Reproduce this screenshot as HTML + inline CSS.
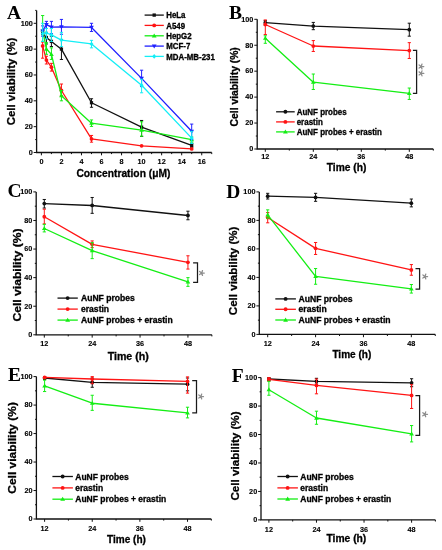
<!DOCTYPE html><html><head><meta charset="utf-8"><style>html,body{margin:0;padding:0;background:#fff;}svg{display:block;will-change:transform}</style></head><body>
<svg width="442" height="550" viewBox="0 0 442 550">
<rect width="442" height="550" fill="#fff"/>
<path d="M36.60 10.38V152.50H211.74" fill="none" stroke="#111" stroke-width="1.3"/>
<path d="M33.70 152.50H36.60M33.70 126.66H36.60M33.70 100.82H36.60M33.70 74.98H36.60M33.70 49.14H36.60M33.70 23.30H36.60M35.20 139.58H36.60M35.20 113.74H36.60M35.20 87.90H36.60M35.20 62.06H36.60M35.20 36.22H36.60M35.20 10.38H36.60M41.40 152.50V155.30M61.44 152.50V155.30M81.48 152.50V155.30M101.52 152.50V155.30M121.56 152.50V155.30M141.60 152.50V155.30M161.64 152.50V155.30M181.68 152.50V155.30M201.72 152.50V155.30M51.42 152.50V154.10M71.46 152.50V154.10M91.50 152.50V154.10M111.54 152.50V154.10M131.58 152.50V154.10M151.62 152.50V154.10M171.66 152.50V154.10M191.70 152.50V154.10M211.74 152.50V154.10" fill="none" stroke="#111" stroke-width="1"/>
<text x="32.80" y="154.80" font-family="Liberation Sans" font-weight="bold" font-size="8" text-anchor="end" fill="#000" textLength="4.05" lengthAdjust="spacingAndGlyphs" stroke="#000" stroke-width="0.12">0</text>
<text x="32.80" y="128.96" font-family="Liberation Sans" font-weight="bold" font-size="8" text-anchor="end" fill="#000" textLength="8.10" lengthAdjust="spacingAndGlyphs" stroke="#000" stroke-width="0.12">20</text>
<text x="32.80" y="103.12" font-family="Liberation Sans" font-weight="bold" font-size="8" text-anchor="end" fill="#000" textLength="8.10" lengthAdjust="spacingAndGlyphs" stroke="#000" stroke-width="0.12">40</text>
<text x="32.80" y="77.28" font-family="Liberation Sans" font-weight="bold" font-size="8" text-anchor="end" fill="#000" textLength="8.10" lengthAdjust="spacingAndGlyphs" stroke="#000" stroke-width="0.12">60</text>
<text x="32.80" y="51.44" font-family="Liberation Sans" font-weight="bold" font-size="8" text-anchor="end" fill="#000" textLength="8.10" lengthAdjust="spacingAndGlyphs" stroke="#000" stroke-width="0.12">80</text>
<text x="32.80" y="25.60" font-family="Liberation Sans" font-weight="bold" font-size="8" text-anchor="end" fill="#000" textLength="12.15" lengthAdjust="spacingAndGlyphs" stroke="#000" stroke-width="0.12">100</text>
<text x="41.40" y="164.10" font-family="Liberation Sans" font-weight="bold" font-size="8" text-anchor="middle" fill="#000" textLength="4.05" lengthAdjust="spacingAndGlyphs" stroke="#000" stroke-width="0.12">0</text>
<text x="61.44" y="164.10" font-family="Liberation Sans" font-weight="bold" font-size="8" text-anchor="middle" fill="#000" textLength="4.05" lengthAdjust="spacingAndGlyphs" stroke="#000" stroke-width="0.12">2</text>
<text x="81.48" y="164.10" font-family="Liberation Sans" font-weight="bold" font-size="8" text-anchor="middle" fill="#000" textLength="4.05" lengthAdjust="spacingAndGlyphs" stroke="#000" stroke-width="0.12">4</text>
<text x="101.52" y="164.10" font-family="Liberation Sans" font-weight="bold" font-size="8" text-anchor="middle" fill="#000" textLength="4.05" lengthAdjust="spacingAndGlyphs" stroke="#000" stroke-width="0.12">6</text>
<text x="121.56" y="164.10" font-family="Liberation Sans" font-weight="bold" font-size="8" text-anchor="middle" fill="#000" textLength="4.05" lengthAdjust="spacingAndGlyphs" stroke="#000" stroke-width="0.12">8</text>
<text x="141.60" y="164.10" font-family="Liberation Sans" font-weight="bold" font-size="8" text-anchor="middle" fill="#000" textLength="8.10" lengthAdjust="spacingAndGlyphs" stroke="#000" stroke-width="0.12">10</text>
<text x="161.64" y="164.10" font-family="Liberation Sans" font-weight="bold" font-size="8" text-anchor="middle" fill="#000" textLength="8.10" lengthAdjust="spacingAndGlyphs" stroke="#000" stroke-width="0.12">12</text>
<text x="181.68" y="164.10" font-family="Liberation Sans" font-weight="bold" font-size="8" text-anchor="middle" fill="#000" textLength="8.10" lengthAdjust="spacingAndGlyphs" stroke="#000" stroke-width="0.12">14</text>
<text x="201.72" y="164.10" font-family="Liberation Sans" font-weight="bold" font-size="8" text-anchor="middle" fill="#000" textLength="8.10" lengthAdjust="spacingAndGlyphs" stroke="#000" stroke-width="0.12">16</text>
<path d="M42.65 33.64L46.41 37.51L51.42 41.39L61.44 49.14L91.50 102.76L141.60 127.18L191.70 145.39" fill="none" stroke="#111" stroke-width="1.3" stroke-linejoin="round"/>
<path d="M46.41 32.34V43.97M44.81 32.34H48.01M44.81 43.97H48.01M51.42 36.22V46.56M49.82 36.22H53.02M49.82 46.56H53.02M61.44 39.45V59.48M59.84 39.45H63.04M59.84 59.48H63.04M91.50 98.75V107.28M89.90 98.75H93.10M89.90 107.28H93.10M141.60 120.46V136.35M140.00 120.46H143.20M140.00 136.35H143.20M191.70 143.46V147.33M190.10 143.46H193.30M190.10 147.33H193.30" fill="none" stroke="#111" stroke-width="1"/>
<rect x="41.03" y="32.02" width="3.24" height="3.24" fill="#111"/>
<rect x="44.79" y="35.89" width="3.24" height="3.24" fill="#111"/>
<rect x="49.80" y="39.77" width="3.24" height="3.24" fill="#111"/>
<rect x="59.82" y="47.52" width="3.24" height="3.24" fill="#111"/>
<rect x="89.88" y="101.14" width="3.24" height="3.24" fill="#111"/>
<rect x="139.98" y="125.56" width="3.24" height="3.24" fill="#111"/>
<rect x="190.08" y="143.77" width="3.24" height="3.24" fill="#111"/>
<path d="M42.65 45.91L46.41 60.12L51.42 67.23L61.44 90.48L91.50 138.93L141.60 145.78L191.70 148.88" fill="none" stroke="#ff1414" stroke-width="1.3" stroke-linejoin="round"/>
<path d="M42.65 42.03V58.18M41.05 42.03H44.25M41.05 58.18H44.25M46.41 56.25V64.00M44.81 56.25H48.01M44.81 64.00H48.01M51.42 63.35V71.10M49.82 63.35H53.02M49.82 71.10H53.02M61.44 84.02V95.65M59.84 84.02H63.04M59.84 95.65H63.04M91.50 135.45V142.16M89.90 135.45H93.10M89.90 142.16H93.10" fill="none" stroke="#ff1414" stroke-width="1"/>
<circle cx="42.65" cy="45.91" r="1.89" fill="#ff1414"/>
<circle cx="46.41" cy="60.12" r="1.89" fill="#ff1414"/>
<circle cx="51.42" cy="67.23" r="1.89" fill="#ff1414"/>
<circle cx="61.44" cy="90.48" r="1.89" fill="#ff1414"/>
<circle cx="91.50" cy="138.93" r="1.89" fill="#ff1414"/>
<circle cx="141.60" cy="145.78" r="1.89" fill="#ff1414"/>
<circle cx="191.70" cy="148.88" r="1.89" fill="#ff1414"/>
<path d="M42.65 29.76L46.41 49.14L51.42 54.31L61.44 95.65L91.50 123.17L141.60 130.02L191.70 139.58" fill="none" stroke="#14ee14" stroke-width="1.3" stroke-linejoin="round"/>
<path d="M42.65 15.55V41.39M41.05 15.55H44.25M41.05 41.39H44.25M46.41 42.68V54.31M44.81 42.68H48.01M44.81 54.31H48.01M51.42 47.85V59.48M49.82 47.85H53.02M49.82 59.48H53.02M61.44 90.48V100.82M59.84 90.48H63.04M59.84 100.82H63.04M91.50 119.94V126.40M89.90 119.94H93.10M89.90 126.40H93.10M141.60 121.75V136.22M140.00 121.75H143.20M140.00 136.22H143.20M191.70 137.00V142.16M190.10 137.00H193.30M190.10 142.16H193.30" fill="none" stroke="#14ee14" stroke-width="1"/>
<path d="M42.65 27.42L44.99 31.38L40.31 31.38Z" fill="#14ee14"/>
<path d="M46.41 46.80L48.75 50.76L44.07 50.76Z" fill="#14ee14"/>
<path d="M51.42 51.97L53.76 55.93L49.08 55.93Z" fill="#14ee14"/>
<path d="M61.44 93.31L63.78 97.27L59.10 97.27Z" fill="#14ee14"/>
<path d="M91.50 120.83L93.84 124.79L89.16 124.79Z" fill="#14ee14"/>
<path d="M141.60 127.68L143.94 131.64L139.26 131.64Z" fill="#14ee14"/>
<path d="M191.70 137.24L194.04 141.20L189.36 141.20Z" fill="#14ee14"/>
<path d="M42.65 31.05L46.41 24.59L51.42 27.18L61.44 26.79L91.50 27.43L141.60 78.34L191.70 131.31" fill="none" stroke="#2020ff" stroke-width="1.3" stroke-linejoin="round"/>
<path d="M42.65 25.88V36.22M41.05 25.88H44.25M41.05 36.22H44.25M46.41 21.36V28.47M44.81 21.36H48.01M44.81 28.47H48.01M51.42 21.36V33.64M49.82 21.36H53.02M49.82 33.64H53.02M61.44 19.42V34.28M59.84 19.42H63.04M59.84 34.28H63.04M91.50 23.30V31.44M89.90 23.30H93.10M89.90 31.44H93.10M141.60 70.20V86.61M140.00 70.20H143.20M140.00 86.61H143.20M191.70 124.08V139.58M190.10 124.08H193.30M190.10 139.58H193.30" fill="none" stroke="#2020ff" stroke-width="1"/>
<path d="M42.65 33.39L44.99 29.43L40.31 29.43Z" fill="#2020ff"/>
<path d="M46.41 26.93L48.75 22.97L44.07 22.97Z" fill="#2020ff"/>
<path d="M51.42 29.52L53.76 25.56L49.08 25.56Z" fill="#2020ff"/>
<path d="M61.44 29.13L63.78 25.17L59.10 25.17Z" fill="#2020ff"/>
<path d="M91.50 29.77L93.84 25.81L89.16 25.81Z" fill="#2020ff"/>
<path d="M141.60 80.68L143.94 76.72L139.26 76.72Z" fill="#2020ff"/>
<path d="M191.70 133.65L194.04 129.69L189.36 129.69Z" fill="#2020ff"/>
<path d="M42.65 33.64L46.41 32.99L51.42 34.93L61.44 40.10L91.50 43.97L141.60 85.32L191.70 138.16" fill="none" stroke="#14eef6" stroke-width="1.3" stroke-linejoin="round"/>
<path d="M42.65 23.30V41.39M41.05 23.30H44.25M41.05 41.39H44.25M46.41 28.47V38.80M44.81 28.47H48.01M44.81 38.80H48.01M51.42 28.47V41.39M49.82 28.47H53.02M49.82 41.39H53.02M61.44 32.34V46.56M59.84 32.34H63.04M59.84 46.56H63.04M91.50 40.35V47.85M89.90 40.35H93.10M89.90 47.85H93.10M141.60 79.24V92.81M140.00 79.24H143.20M140.00 92.81H143.20M191.70 131.31V143.46M190.10 131.31H193.30M190.10 143.46H193.30" fill="none" stroke="#14eef6" stroke-width="1"/>
<path d="M42.65 31.30L44.63 33.64L42.65 35.98L40.67 33.64Z" fill="#14eef6"/>
<path d="M46.41 30.65L48.39 32.99L46.41 35.33L44.43 32.99Z" fill="#14eef6"/>
<path d="M51.42 32.59L53.40 34.93L51.42 37.27L49.44 34.93Z" fill="#14eef6"/>
<path d="M61.44 37.76L63.42 40.10L61.44 42.44L59.46 40.10Z" fill="#14eef6"/>
<path d="M91.50 41.63L93.48 43.97L91.50 46.31L89.52 43.97Z" fill="#14eef6"/>
<path d="M141.60 82.98L143.58 85.32L141.60 87.66L139.62 85.32Z" fill="#14eef6"/>
<path d="M191.70 135.82L193.68 138.16L191.70 140.50L189.72 138.16Z" fill="#14eef6"/>
<path d="M144.60 15.10H163.80" stroke="#111" stroke-width="1.3"/>
<rect x="152.53" y="13.43" width="3.33" height="3.33" fill="#111"/>
<text x="166.20" y="18.20" font-family="Liberation Sans" font-weight="bold" font-size="8.2" text-anchor="start" fill="#000" textLength="19.27" lengthAdjust="spacingAndGlyphs" stroke="#000" stroke-width="0.3">HeLa</text>
<path d="M144.60 25.40H163.80" stroke="#ff1414" stroke-width="1.3"/>
<circle cx="154.20" cy="25.40" r="1.94" fill="#ff1414"/>
<text x="166.20" y="28.50" font-family="Liberation Sans" font-weight="bold" font-size="8.2" text-anchor="start" fill="#000" textLength="18.84" lengthAdjust="spacingAndGlyphs" stroke="#000" stroke-width="0.3">A549</text>
<path d="M144.60 35.80H163.80" stroke="#14ee14" stroke-width="1.3"/>
<path d="M154.20 33.39L156.60 37.46L151.79 37.46Z" fill="#14ee14"/>
<text x="166.20" y="38.90" font-family="Liberation Sans" font-weight="bold" font-size="8.2" text-anchor="start" fill="#000" textLength="25.40" lengthAdjust="spacingAndGlyphs" stroke="#000" stroke-width="0.3">HepG2</text>
<path d="M144.60 46.10H163.80" stroke="#2020ff" stroke-width="1.3"/>
<path d="M154.20 48.51L156.60 44.44L151.79 44.44Z" fill="#2020ff"/>
<text x="166.20" y="49.20" font-family="Liberation Sans" font-weight="bold" font-size="8.2" text-anchor="start" fill="#000" textLength="24.08" lengthAdjust="spacingAndGlyphs" stroke="#000" stroke-width="0.3">MCF-7</text>
<path d="M144.60 56.40H163.80" stroke="#14eef6" stroke-width="1.3"/>
<path d="M154.20 53.99L156.23 56.40L154.20 58.80L152.16 56.40Z" fill="#14eef6"/>
<text x="166.20" y="59.50" font-family="Liberation Sans" font-weight="bold" font-size="8.2" text-anchor="start" fill="#000" textLength="48.60" lengthAdjust="spacingAndGlyphs" stroke="#000" stroke-width="0.3">MDA-MB-231</text>
<text x="7.00" y="18.70" font-family="Liberation Serif" font-weight="bold" font-size="19.5">A</text>
<text transform="translate(14.90 81.50) rotate(-90)" font-family="Liberation Sans" font-weight="bold" font-size="11.5" text-anchor="middle" stroke="#000" stroke-width="0.3" textLength="87.50" lengthAdjust="spacingAndGlyphs">Cell viability (%)</text>
<text x="76.40" y="177.00" font-family="Liberation Sans" font-weight="bold" font-size="11.3" text-anchor="start" fill="#000" textLength="94.00" lengthAdjust="spacingAndGlyphs" stroke="#000" stroke-width="0.3">Concentration (μM)</text>
<path d="M257.20 19.30V149.00H433.30" fill="none" stroke="#111" stroke-width="1.3"/>
<path d="M254.30 149.00H257.20M254.30 123.06H257.20M254.30 97.12H257.20M254.30 71.18H257.20M254.30 45.24H257.20M254.30 19.30H257.20M255.80 136.03H257.20M255.80 110.09H257.20M255.80 84.15H257.20M255.80 58.21H257.20M255.80 32.27H257.20M265.30 149.00V151.80M313.30 149.00V151.80M361.30 149.00V151.80M409.30 149.00V151.80M289.30 149.00V150.60M337.30 149.00V150.60M385.30 149.00V150.60M433.30 149.00V150.60" fill="none" stroke="#111" stroke-width="1"/>
<text x="253.40" y="151.30" font-family="Liberation Sans" font-weight="bold" font-size="8" text-anchor="end" fill="#000" textLength="4.05" lengthAdjust="spacingAndGlyphs" stroke="#000" stroke-width="0.12">0</text>
<text x="253.40" y="125.36" font-family="Liberation Sans" font-weight="bold" font-size="8" text-anchor="end" fill="#000" textLength="8.10" lengthAdjust="spacingAndGlyphs" stroke="#000" stroke-width="0.12">20</text>
<text x="253.40" y="99.42" font-family="Liberation Sans" font-weight="bold" font-size="8" text-anchor="end" fill="#000" textLength="8.10" lengthAdjust="spacingAndGlyphs" stroke="#000" stroke-width="0.12">40</text>
<text x="253.40" y="73.48" font-family="Liberation Sans" font-weight="bold" font-size="8" text-anchor="end" fill="#000" textLength="8.10" lengthAdjust="spacingAndGlyphs" stroke="#000" stroke-width="0.12">60</text>
<text x="253.40" y="47.54" font-family="Liberation Sans" font-weight="bold" font-size="8" text-anchor="end" fill="#000" textLength="8.10" lengthAdjust="spacingAndGlyphs" stroke="#000" stroke-width="0.12">80</text>
<text x="253.40" y="21.60" font-family="Liberation Sans" font-weight="bold" font-size="8" text-anchor="end" fill="#000" textLength="12.15" lengthAdjust="spacingAndGlyphs" stroke="#000" stroke-width="0.12">100</text>
<text x="265.30" y="159.10" font-family="Liberation Sans" font-weight="bold" font-size="8" text-anchor="middle" fill="#000" textLength="8.10" lengthAdjust="spacingAndGlyphs" stroke="#000" stroke-width="0.12">12</text>
<text x="313.30" y="159.10" font-family="Liberation Sans" font-weight="bold" font-size="8" text-anchor="middle" fill="#000" textLength="8.10" lengthAdjust="spacingAndGlyphs" stroke="#000" stroke-width="0.12">24</text>
<text x="361.30" y="159.10" font-family="Liberation Sans" font-weight="bold" font-size="8" text-anchor="middle" fill="#000" textLength="8.10" lengthAdjust="spacingAndGlyphs" stroke="#000" stroke-width="0.12">36</text>
<text x="409.30" y="159.10" font-family="Liberation Sans" font-weight="bold" font-size="8" text-anchor="middle" fill="#000" textLength="8.10" lengthAdjust="spacingAndGlyphs" stroke="#000" stroke-width="0.12">48</text>
<path d="M265.30 22.67L313.30 26.04L409.30 29.68" fill="none" stroke="#111" stroke-width="1.3" stroke-linejoin="round"/>
<path d="M265.30 20.60V25.14M263.70 20.60H266.90M263.70 25.14H266.90M313.30 22.41V29.68M311.70 22.41H314.90M311.70 29.68H314.90M409.30 23.19V36.16M407.70 23.19H410.90M407.70 36.16H410.90" fill="none" stroke="#111" stroke-width="1"/>
<circle cx="265.30" cy="22.67" r="1.89" fill="#111"/>
<circle cx="313.30" cy="26.04" r="1.89" fill="#111"/>
<circle cx="409.30" cy="29.68" r="1.89" fill="#111"/>
<path d="M265.30 24.49L313.30 46.02L409.30 50.56" fill="none" stroke="#ff1414" stroke-width="1.3" stroke-linejoin="round"/>
<path d="M265.30 19.95V34.47M263.70 19.95H266.90M263.70 34.47H266.90M313.30 40.57V51.47M311.70 40.57H314.90M311.70 51.47H314.90M409.30 42.65V58.47M407.70 42.65H410.90M407.70 58.47H410.90" fill="none" stroke="#ff1414" stroke-width="1"/>
<circle cx="265.30" cy="24.49" r="1.89" fill="#ff1414"/>
<circle cx="313.30" cy="46.02" r="1.89" fill="#ff1414"/>
<circle cx="409.30" cy="50.56" r="1.89" fill="#ff1414"/>
<path d="M265.30 38.24L313.30 82.20L409.30 93.36" fill="none" stroke="#14ee14" stroke-width="1.3" stroke-linejoin="round"/>
<path d="M265.30 35.77V43.29M263.70 35.77H266.90M263.70 43.29H266.90M313.30 74.03V89.47M311.70 74.03H314.90M311.70 89.47H314.90M409.30 88.04V99.45M407.70 88.04H410.90M407.70 99.45H410.90" fill="none" stroke="#14ee14" stroke-width="1"/>
<path d="M265.30 35.90L267.64 39.86L262.96 39.86Z" fill="#14ee14"/>
<path d="M313.30 79.86L315.64 83.82L310.96 83.82Z" fill="#14ee14"/>
<path d="M409.30 91.02L411.64 94.98L406.96 94.98Z" fill="#14ee14"/>
<path d="M276.10 111.80H294.70" stroke="#111" stroke-width="1.3"/>
<circle cx="285.40" cy="111.80" r="1.94" fill="#111"/>
<text x="296.70" y="114.90" font-family="Liberation Sans" font-weight="bold" font-size="8.2" text-anchor="start" fill="#000" textLength="50.00" lengthAdjust="spacingAndGlyphs" stroke="#000" stroke-width="0.3">AuNF probes</text>
<path d="M276.10 121.90H294.70" stroke="#ff1414" stroke-width="1.3"/>
<circle cx="285.40" cy="121.90" r="1.94" fill="#ff1414"/>
<text x="296.70" y="125.00" font-family="Liberation Sans" font-weight="bold" font-size="8.2" text-anchor="start" fill="#000" textLength="26.12" lengthAdjust="spacingAndGlyphs" stroke="#000" stroke-width="0.3">erastin</text>
<path d="M276.10 131.90H294.70" stroke="#14ee14" stroke-width="1.3"/>
<path d="M285.40 129.50L287.80 133.56L283.00 133.56Z" fill="#14ee14"/>
<text x="296.70" y="135.00" font-family="Liberation Sans" font-weight="bold" font-size="8.2" text-anchor="start" fill="#000" textLength="85.20" lengthAdjust="spacingAndGlyphs" stroke="#000" stroke-width="0.3">AuNF probes + erastin</text>
<path d="M412.90 50.40H416.60V93.40H412.90" fill="none" stroke="#1a1a1a" stroke-width="1.25"/>
<path d="M421.20 66.50L423.80 66.50M421.20 66.50L422.00 68.97M421.20 66.50L419.10 68.03M421.20 66.50L419.10 64.97M421.20 66.50L422.00 64.03" stroke="#8c8c8c" stroke-width="1.25" stroke-linecap="round" fill="none"/>
<path d="M421.20 73.40L423.80 73.40M421.20 73.40L422.00 75.87M421.20 73.40L419.10 74.93M421.20 73.40L419.10 71.87M421.20 73.40L422.00 70.93" stroke="#8c8c8c" stroke-width="1.25" stroke-linecap="round" fill="none"/>
<text x="326.80" y="170.80" font-family="Liberation Sans" font-weight="bold" font-size="10.2" text-anchor="start" fill="#000" textLength="39.60" lengthAdjust="spacingAndGlyphs" stroke="#000" stroke-width="0.3">Time (h)</text>
<text transform="translate(238.30 86.80) rotate(-90)" font-family="Liberation Sans" font-weight="bold" font-size="10.3" text-anchor="middle" stroke="#000" stroke-width="0.3" textLength="79.20" lengthAdjust="spacingAndGlyphs">Cell viability (%)</text>
<text x="229.00" y="18.70" font-family="Liberation Serif" font-weight="bold" font-size="19.5">B</text>
<path d="M36.20 191.90V334.80H211.88" fill="none" stroke="#111" stroke-width="1.3"/>
<path d="M33.30 334.80H36.20M33.30 306.22H36.20M33.30 277.64H36.20M33.30 249.06H36.20M33.30 220.48H36.20M33.30 191.90H36.20M34.80 320.51H36.20M34.80 291.93H36.20M34.80 263.35H36.20M34.80 234.77H36.20M34.80 206.19H36.20M44.30 334.80V337.60M92.18 334.80V337.60M140.06 334.80V337.60M187.94 334.80V337.60M68.24 334.80V336.40M116.12 334.80V336.40M164.00 334.80V336.40M211.88 334.80V336.40" fill="none" stroke="#111" stroke-width="1"/>
<text x="32.40" y="337.10" font-family="Liberation Sans" font-weight="bold" font-size="8" text-anchor="end" fill="#000" textLength="4.05" lengthAdjust="spacingAndGlyphs" stroke="#000" stroke-width="0.12">0</text>
<text x="32.40" y="308.52" font-family="Liberation Sans" font-weight="bold" font-size="8" text-anchor="end" fill="#000" textLength="8.10" lengthAdjust="spacingAndGlyphs" stroke="#000" stroke-width="0.12">20</text>
<text x="32.40" y="279.94" font-family="Liberation Sans" font-weight="bold" font-size="8" text-anchor="end" fill="#000" textLength="8.10" lengthAdjust="spacingAndGlyphs" stroke="#000" stroke-width="0.12">40</text>
<text x="32.40" y="251.36" font-family="Liberation Sans" font-weight="bold" font-size="8" text-anchor="end" fill="#000" textLength="8.10" lengthAdjust="spacingAndGlyphs" stroke="#000" stroke-width="0.12">60</text>
<text x="32.40" y="222.78" font-family="Liberation Sans" font-weight="bold" font-size="8" text-anchor="end" fill="#000" textLength="8.10" lengthAdjust="spacingAndGlyphs" stroke="#000" stroke-width="0.12">80</text>
<text x="32.40" y="194.20" font-family="Liberation Sans" font-weight="bold" font-size="8" text-anchor="end" fill="#000" textLength="12.15" lengthAdjust="spacingAndGlyphs" stroke="#000" stroke-width="0.12">100</text>
<text x="44.30" y="346.40" font-family="Liberation Sans" font-weight="bold" font-size="8" text-anchor="middle" fill="#000" textLength="8.10" lengthAdjust="spacingAndGlyphs" stroke="#000" stroke-width="0.12">12</text>
<text x="92.18" y="346.40" font-family="Liberation Sans" font-weight="bold" font-size="8" text-anchor="middle" fill="#000" textLength="8.10" lengthAdjust="spacingAndGlyphs" stroke="#000" stroke-width="0.12">24</text>
<text x="140.06" y="346.40" font-family="Liberation Sans" font-weight="bold" font-size="8" text-anchor="middle" fill="#000" textLength="8.10" lengthAdjust="spacingAndGlyphs" stroke="#000" stroke-width="0.12">36</text>
<text x="187.94" y="346.40" font-family="Liberation Sans" font-weight="bold" font-size="8" text-anchor="middle" fill="#000" textLength="8.10" lengthAdjust="spacingAndGlyphs" stroke="#000" stroke-width="0.12">48</text>
<path d="M44.30 203.62L92.18 205.48L187.94 215.48" fill="none" stroke="#111" stroke-width="1.3" stroke-linejoin="round"/>
<path d="M44.30 199.47V208.05M42.70 199.47H45.90M42.70 208.05H45.90M92.18 197.47V213.34M90.58 197.47H93.78M90.58 213.34H93.78M187.94 211.19V219.77M186.34 211.19H189.54M186.34 219.77H189.54" fill="none" stroke="#111" stroke-width="1"/>
<circle cx="44.30" cy="203.62" r="1.89" fill="#111"/>
<circle cx="92.18" cy="205.48" r="1.89" fill="#111"/>
<circle cx="187.94" cy="215.48" r="1.89" fill="#111"/>
<path d="M44.30 216.76L92.18 244.34L187.94 262.35" fill="none" stroke="#ff1414" stroke-width="1.3" stroke-linejoin="round"/>
<path d="M44.30 209.19V223.91M42.70 209.19H45.90M42.70 223.91H45.90M92.18 240.91V247.63M90.58 240.91H93.78M90.58 247.63H93.78M187.94 255.78V269.07M186.34 255.78H189.54M186.34 269.07H189.54" fill="none" stroke="#ff1414" stroke-width="1"/>
<circle cx="44.30" cy="216.76" r="1.89" fill="#ff1414"/>
<circle cx="92.18" cy="244.34" r="1.89" fill="#ff1414"/>
<circle cx="187.94" cy="262.35" r="1.89" fill="#ff1414"/>
<path d="M44.30 228.48L92.18 250.63L187.94 281.93" fill="none" stroke="#14ee14" stroke-width="1.3" stroke-linejoin="round"/>
<path d="M44.30 224.34V231.91M42.70 224.34H45.90M42.70 231.91H45.90M92.18 242.63V258.63M90.58 242.63H93.78M90.58 258.63H93.78M187.94 277.64V286.36M186.34 277.64H189.54M186.34 286.36H189.54" fill="none" stroke="#14ee14" stroke-width="1"/>
<path d="M44.30 226.14L46.64 230.10L41.96 230.10Z" fill="#14ee14"/>
<path d="M92.18 248.29L94.52 252.25L89.84 252.25Z" fill="#14ee14"/>
<path d="M187.94 279.59L190.28 283.55L185.60 283.55Z" fill="#14ee14"/>
<path d="M57.50 298.10H77.80" stroke="#111" stroke-width="1.3"/>
<circle cx="67.65" cy="298.10" r="1.94" fill="#111"/>
<text x="81.00" y="301.20" font-family="Liberation Sans" font-weight="bold" font-size="8.2" text-anchor="start" fill="#000" textLength="53.82" lengthAdjust="spacingAndGlyphs" stroke="#000" stroke-width="0.3">AuNF probes</text>
<path d="M57.50 309.10H77.80" stroke="#ff1414" stroke-width="1.3"/>
<circle cx="67.65" cy="309.10" r="1.94" fill="#ff1414"/>
<text x="81.00" y="312.20" font-family="Liberation Sans" font-weight="bold" font-size="8.2" text-anchor="start" fill="#000" textLength="28.11" lengthAdjust="spacingAndGlyphs" stroke="#000" stroke-width="0.3">erastin</text>
<path d="M57.50 320.10H77.80" stroke="#14ee14" stroke-width="1.3"/>
<path d="M67.65 317.70L70.06 321.77L65.25 321.77Z" fill="#14ee14"/>
<text x="81.00" y="323.20" font-family="Liberation Sans" font-weight="bold" font-size="8.2" text-anchor="start" fill="#000" textLength="91.70" lengthAdjust="spacingAndGlyphs" stroke="#000" stroke-width="0.3">AuNF probes + erastin</text>
<path d="M193.10 262.80H197.50V282.30H193.10" fill="none" stroke="#1a1a1a" stroke-width="1.25"/>
<path d="M201.70 273.00L204.30 273.00M201.70 273.00L202.50 275.47M201.70 273.00L199.60 274.53M201.70 273.00L199.60 271.47M201.70 273.00L202.50 270.53" stroke="#8c8c8c" stroke-width="1.25" stroke-linecap="round" fill="none"/>
<text x="107.70" y="359.90" font-family="Liberation Sans" font-weight="bold" font-size="10.2" text-anchor="start" fill="#000" textLength="41.10" lengthAdjust="spacingAndGlyphs" stroke="#000" stroke-width="0.3">Time (h)</text>
<text transform="translate(21.00 275.00) rotate(-90)" font-family="Liberation Sans" font-weight="bold" font-size="11.7" text-anchor="middle" stroke="#000" stroke-width="0.3" textLength="93.00" lengthAdjust="spacingAndGlyphs">Cell viability (%)</text>
<text x="7.40" y="197.00" font-family="Liberation Serif" font-weight="bold" font-size="19.5">C</text>
<path d="M259.30 191.90V334.40H435.28" fill="none" stroke="#111" stroke-width="1.3"/>
<path d="M256.40 334.40H259.30M256.40 305.90H259.30M256.40 277.40H259.30M256.40 248.90H259.30M256.40 220.40H259.30M256.40 191.90H259.30M257.90 320.15H259.30M257.90 291.65H259.30M257.90 263.15H259.30M257.90 234.65H259.30M257.90 206.15H259.30M267.70 334.40V337.20M315.58 334.40V337.20M363.46 334.40V337.20M411.34 334.40V337.20M291.64 334.40V336.00M339.52 334.40V336.00M387.40 334.40V336.00M435.28 334.40V336.00" fill="none" stroke="#111" stroke-width="1"/>
<text x="255.50" y="336.70" font-family="Liberation Sans" font-weight="bold" font-size="8" text-anchor="end" fill="#000" textLength="4.05" lengthAdjust="spacingAndGlyphs" stroke="#000" stroke-width="0.12">0</text>
<text x="255.50" y="308.20" font-family="Liberation Sans" font-weight="bold" font-size="8" text-anchor="end" fill="#000" textLength="8.10" lengthAdjust="spacingAndGlyphs" stroke="#000" stroke-width="0.12">20</text>
<text x="255.50" y="279.70" font-family="Liberation Sans" font-weight="bold" font-size="8" text-anchor="end" fill="#000" textLength="8.10" lengthAdjust="spacingAndGlyphs" stroke="#000" stroke-width="0.12">40</text>
<text x="255.50" y="251.20" font-family="Liberation Sans" font-weight="bold" font-size="8" text-anchor="end" fill="#000" textLength="8.10" lengthAdjust="spacingAndGlyphs" stroke="#000" stroke-width="0.12">60</text>
<text x="255.50" y="222.70" font-family="Liberation Sans" font-weight="bold" font-size="8" text-anchor="end" fill="#000" textLength="8.10" lengthAdjust="spacingAndGlyphs" stroke="#000" stroke-width="0.12">80</text>
<text x="255.50" y="194.20" font-family="Liberation Sans" font-weight="bold" font-size="8" text-anchor="end" fill="#000" textLength="12.15" lengthAdjust="spacingAndGlyphs" stroke="#000" stroke-width="0.12">100</text>
<text x="267.70" y="346.00" font-family="Liberation Sans" font-weight="bold" font-size="8" text-anchor="middle" fill="#000" textLength="8.10" lengthAdjust="spacingAndGlyphs" stroke="#000" stroke-width="0.12">12</text>
<text x="315.58" y="346.00" font-family="Liberation Sans" font-weight="bold" font-size="8" text-anchor="middle" fill="#000" textLength="8.10" lengthAdjust="spacingAndGlyphs" stroke="#000" stroke-width="0.12">24</text>
<text x="363.46" y="346.00" font-family="Liberation Sans" font-weight="bold" font-size="8" text-anchor="middle" fill="#000" textLength="8.10" lengthAdjust="spacingAndGlyphs" stroke="#000" stroke-width="0.12">36</text>
<text x="411.34" y="346.00" font-family="Liberation Sans" font-weight="bold" font-size="8" text-anchor="middle" fill="#000" textLength="8.10" lengthAdjust="spacingAndGlyphs" stroke="#000" stroke-width="0.12">48</text>
<path d="M267.70 196.17L315.58 197.46L411.34 203.16" fill="none" stroke="#111" stroke-width="1.3" stroke-linejoin="round"/>
<path d="M267.70 193.32V199.02M266.10 193.32H269.30M266.10 199.02H269.30M315.58 193.32V201.30M313.98 193.32H317.18M313.98 201.30H317.18M411.34 199.02V206.86M409.74 199.02H412.94M409.74 206.86H412.94" fill="none" stroke="#111" stroke-width="1"/>
<circle cx="267.70" cy="196.17" r="1.89" fill="#111"/>
<circle cx="315.58" cy="197.46" r="1.89" fill="#111"/>
<circle cx="411.34" cy="203.16" r="1.89" fill="#111"/>
<path d="M267.70 217.55L315.58 248.33L411.34 269.99" fill="none" stroke="#ff1414" stroke-width="1.3" stroke-linejoin="round"/>
<path d="M267.70 212.56V222.82M266.10 212.56H269.30M266.10 222.82H269.30M315.58 242.49V254.46M313.98 242.49H317.18M313.98 254.46H317.18M411.34 264.57V275.26M409.74 264.57H412.94M409.74 275.26H412.94" fill="none" stroke="#ff1414" stroke-width="1"/>
<circle cx="267.70" cy="217.55" r="1.89" fill="#ff1414"/>
<circle cx="315.58" cy="248.33" r="1.89" fill="#ff1414"/>
<circle cx="411.34" cy="269.99" r="1.89" fill="#ff1414"/>
<path d="M267.70 214.84L315.58 276.40L411.34 288.94" fill="none" stroke="#14ee14" stroke-width="1.3" stroke-linejoin="round"/>
<path d="M267.70 209.85V218.26M266.10 209.85H269.30M266.10 218.26H269.30M315.58 268.56V284.24M313.98 268.56H317.18M313.98 284.24H317.18M411.34 284.52V293.07M409.74 284.52H412.94M409.74 293.07H412.94" fill="none" stroke="#14ee14" stroke-width="1"/>
<path d="M267.70 212.50L270.04 216.46L265.36 216.46Z" fill="#14ee14"/>
<path d="M315.58 274.06L317.92 278.02L313.24 278.02Z" fill="#14ee14"/>
<path d="M411.34 286.60L413.68 290.56L409.00 290.56Z" fill="#14ee14"/>
<path d="M275.30 298.90H295.90" stroke="#111" stroke-width="1.3"/>
<circle cx="285.60" cy="298.90" r="1.94" fill="#111"/>
<text x="298.50" y="302.00" font-family="Liberation Sans" font-weight="bold" font-size="8.2" text-anchor="start" fill="#000" textLength="54.05" lengthAdjust="spacingAndGlyphs" stroke="#000" stroke-width="0.3">AuNF probes</text>
<path d="M275.30 309.30H295.90" stroke="#ff1414" stroke-width="1.3"/>
<circle cx="285.60" cy="309.30" r="1.94" fill="#ff1414"/>
<text x="298.50" y="312.40" font-family="Liberation Sans" font-weight="bold" font-size="8.2" text-anchor="start" fill="#000" textLength="28.23" lengthAdjust="spacingAndGlyphs" stroke="#000" stroke-width="0.3">erastin</text>
<path d="M275.30 320.00H295.90" stroke="#14ee14" stroke-width="1.3"/>
<path d="M285.60 317.60L288.00 321.67L283.20 321.67Z" fill="#14ee14"/>
<text x="298.50" y="323.10" font-family="Liberation Sans" font-weight="bold" font-size="8.2" text-anchor="start" fill="#000" textLength="92.10" lengthAdjust="spacingAndGlyphs" stroke="#000" stroke-width="0.3">AuNF probes + erastin</text>
<path d="M415.50 268.60H419.60V289.00H415.50" fill="none" stroke="#1a1a1a" stroke-width="1.25"/>
<path d="M425.00 276.50L427.60 276.50M425.00 276.50L425.80 278.97M425.00 276.50L422.90 278.03M425.00 276.50L422.90 274.97M425.00 276.50L425.80 274.03" stroke="#8c8c8c" stroke-width="1.25" stroke-linecap="round" fill="none"/>
<text x="332.40" y="358.40" font-family="Liberation Sans" font-weight="bold" font-size="10.2" text-anchor="start" fill="#000" textLength="38.90" lengthAdjust="spacingAndGlyphs" stroke="#000" stroke-width="0.3">Time (h)</text>
<text transform="translate(236.80 270.90) rotate(-90)" font-family="Liberation Sans" font-weight="bold" font-size="11.5" text-anchor="middle" stroke="#000" stroke-width="0.3" textLength="88.60" lengthAdjust="spacingAndGlyphs">Cell viability (%)</text>
<text x="226.30" y="197.60" font-family="Liberation Serif" font-weight="bold" font-size="19.5">D</text>
<path d="M36.40 376.60V519.00H211.34" fill="none" stroke="#111" stroke-width="1.3"/>
<path d="M33.50 519.00H36.40M33.50 490.52H36.40M33.50 462.04H36.40M33.50 433.56H36.40M33.50 405.08H36.40M33.50 376.60H36.40M35.00 504.76H36.40M35.00 476.28H36.40M35.00 447.80H36.40M35.00 419.32H36.40M35.00 390.84H36.40M44.60 519.00V521.80M92.24 519.00V521.80M139.88 519.00V521.80M187.52 519.00V521.80M68.42 519.00V520.60M116.06 519.00V520.60M163.70 519.00V520.60M211.34 519.00V520.60" fill="none" stroke="#111" stroke-width="1"/>
<text x="32.60" y="521.30" font-family="Liberation Sans" font-weight="bold" font-size="8" text-anchor="end" fill="#000" textLength="4.05" lengthAdjust="spacingAndGlyphs" stroke="#000" stroke-width="0.12">0</text>
<text x="32.60" y="492.82" font-family="Liberation Sans" font-weight="bold" font-size="8" text-anchor="end" fill="#000" textLength="8.10" lengthAdjust="spacingAndGlyphs" stroke="#000" stroke-width="0.12">20</text>
<text x="32.60" y="464.34" font-family="Liberation Sans" font-weight="bold" font-size="8" text-anchor="end" fill="#000" textLength="8.10" lengthAdjust="spacingAndGlyphs" stroke="#000" stroke-width="0.12">40</text>
<text x="32.60" y="435.86" font-family="Liberation Sans" font-weight="bold" font-size="8" text-anchor="end" fill="#000" textLength="8.10" lengthAdjust="spacingAndGlyphs" stroke="#000" stroke-width="0.12">60</text>
<text x="32.60" y="407.38" font-family="Liberation Sans" font-weight="bold" font-size="8" text-anchor="end" fill="#000" textLength="8.10" lengthAdjust="spacingAndGlyphs" stroke="#000" stroke-width="0.12">80</text>
<text x="32.60" y="378.90" font-family="Liberation Sans" font-weight="bold" font-size="8" text-anchor="end" fill="#000" textLength="12.15" lengthAdjust="spacingAndGlyphs" stroke="#000" stroke-width="0.12">100</text>
<text x="44.60" y="530.60" font-family="Liberation Sans" font-weight="bold" font-size="8" text-anchor="middle" fill="#000" textLength="8.10" lengthAdjust="spacingAndGlyphs" stroke="#000" stroke-width="0.12">12</text>
<text x="92.24" y="530.60" font-family="Liberation Sans" font-weight="bold" font-size="8" text-anchor="middle" fill="#000" textLength="8.10" lengthAdjust="spacingAndGlyphs" stroke="#000" stroke-width="0.12">24</text>
<text x="139.88" y="530.60" font-family="Liberation Sans" font-weight="bold" font-size="8" text-anchor="middle" fill="#000" textLength="8.10" lengthAdjust="spacingAndGlyphs" stroke="#000" stroke-width="0.12">36</text>
<text x="187.52" y="530.60" font-family="Liberation Sans" font-weight="bold" font-size="8" text-anchor="middle" fill="#000" textLength="8.10" lengthAdjust="spacingAndGlyphs" stroke="#000" stroke-width="0.12">48</text>
<path d="M44.60 378.02L92.24 382.44L187.52 384.15" fill="none" stroke="#111" stroke-width="1.3" stroke-linejoin="round"/>
<path d="M44.60 376.60V379.45M43.00 376.60H46.20M43.00 379.45H46.20M92.24 378.02V387.28M90.64 378.02H93.84M90.64 387.28H93.84M187.52 378.02V390.84M185.92 378.02H189.12M185.92 390.84H189.12" fill="none" stroke="#111" stroke-width="1"/>
<circle cx="44.60" cy="378.02" r="1.89" fill="#111"/>
<circle cx="92.24" cy="382.44" r="1.89" fill="#111"/>
<circle cx="187.52" cy="384.15" r="1.89" fill="#111"/>
<path d="M44.60 377.45L92.24 379.02L187.52 381.44" fill="none" stroke="#ff1414" stroke-width="1.3" stroke-linejoin="round"/>
<path d="M44.60 376.60V378.74M43.00 376.60H46.20M43.00 378.74H46.20M92.24 376.60V383.72M90.64 376.60H93.84M90.64 383.72H93.84M187.52 376.88V393.12M185.92 376.88H189.12M185.92 393.12H189.12" fill="none" stroke="#ff1414" stroke-width="1"/>
<circle cx="44.60" cy="377.45" r="1.89" fill="#ff1414"/>
<circle cx="92.24" cy="379.02" r="1.89" fill="#ff1414"/>
<circle cx="187.52" cy="381.44" r="1.89" fill="#ff1414"/>
<path d="M44.60 385.86L92.24 403.23L187.52 412.91" fill="none" stroke="#14ee14" stroke-width="1.3" stroke-linejoin="round"/>
<path d="M44.60 380.16V391.55M43.00 380.16H46.20M43.00 391.55H46.20M92.24 395.25V410.35M90.64 395.25H93.84M90.64 410.35H93.84M187.52 407.22V417.90M185.92 407.22H189.12M185.92 417.90H189.12" fill="none" stroke="#14ee14" stroke-width="1"/>
<path d="M44.60 383.52L46.94 387.48L42.26 387.48Z" fill="#14ee14"/>
<path d="M92.24 400.89L94.58 404.85L89.90 404.85Z" fill="#14ee14"/>
<path d="M187.52 410.57L189.86 414.53L185.18 414.53Z" fill="#14ee14"/>
<path d="M52.40 476.50H72.90" stroke="#111" stroke-width="1.3"/>
<circle cx="62.65" cy="476.50" r="1.94" fill="#111"/>
<text x="75.30" y="479.60" font-family="Liberation Sans" font-weight="bold" font-size="8.2" text-anchor="start" fill="#000" textLength="53.35" lengthAdjust="spacingAndGlyphs" stroke="#000" stroke-width="0.3">AuNF probes</text>
<path d="M52.40 487.90H72.90" stroke="#ff1414" stroke-width="1.3"/>
<circle cx="62.65" cy="487.90" r="1.94" fill="#ff1414"/>
<text x="75.30" y="491.00" font-family="Liberation Sans" font-weight="bold" font-size="8.2" text-anchor="start" fill="#000" textLength="27.86" lengthAdjust="spacingAndGlyphs" stroke="#000" stroke-width="0.3">erastin</text>
<path d="M52.40 499.20H72.90" stroke="#14ee14" stroke-width="1.3"/>
<path d="M62.65 496.80L65.06 500.87L60.25 500.87Z" fill="#14ee14"/>
<text x="75.30" y="502.30" font-family="Liberation Sans" font-weight="bold" font-size="8.2" text-anchor="start" fill="#000" textLength="90.90" lengthAdjust="spacingAndGlyphs" stroke="#000" stroke-width="0.3">AuNF probes + erastin</text>
<path d="M192.20 380.60H196.50V412.90H192.20" fill="none" stroke="#1a1a1a" stroke-width="1.25"/>
<path d="M200.90 396.50L203.50 396.50M200.90 396.50L201.70 398.97M200.90 396.50L198.80 398.03M200.90 396.50L198.80 394.97M200.90 396.50L201.70 394.03" stroke="#8c8c8c" stroke-width="1.25" stroke-linecap="round" fill="none"/>
<text x="107.00" y="543.30" font-family="Liberation Sans" font-weight="bold" font-size="10.2" text-anchor="start" fill="#000" textLength="38.90" lengthAdjust="spacingAndGlyphs" stroke="#000" stroke-width="0.3">Time (h)</text>
<text transform="translate(16.20 447.90) rotate(-90)" font-family="Liberation Sans" font-weight="bold" font-size="11.7" text-anchor="middle" stroke="#000" stroke-width="0.3" textLength="91.60" lengthAdjust="spacingAndGlyphs">Cell viability (%)</text>
<text x="8.00" y="380.60" font-family="Liberation Serif" font-weight="bold" font-size="19.5">E</text>
<path d="M261.00 377.60V519.90H435.39" fill="none" stroke="#111" stroke-width="1.3"/>
<path d="M258.10 519.90H261.00M258.10 491.44H261.00M258.10 462.98H261.00M258.10 434.52H261.00M258.10 406.06H261.00M258.10 377.60H261.00M259.60 505.67H261.00M259.60 477.21H261.00M259.60 448.75H261.00M259.60 420.29H261.00M259.60 391.83H261.00M268.90 519.90V522.70M316.47 519.90V522.70M364.04 519.90V522.70M411.60 519.90V522.70M292.68 519.90V521.50M340.25 519.90V521.50M387.82 519.90V521.50M435.39 519.90V521.50" fill="none" stroke="#111" stroke-width="1"/>
<text x="257.20" y="522.20" font-family="Liberation Sans" font-weight="bold" font-size="8" text-anchor="end" fill="#000" textLength="4.05" lengthAdjust="spacingAndGlyphs" stroke="#000" stroke-width="0.12">0</text>
<text x="257.20" y="493.74" font-family="Liberation Sans" font-weight="bold" font-size="8" text-anchor="end" fill="#000" textLength="8.10" lengthAdjust="spacingAndGlyphs" stroke="#000" stroke-width="0.12">20</text>
<text x="257.20" y="465.28" font-family="Liberation Sans" font-weight="bold" font-size="8" text-anchor="end" fill="#000" textLength="8.10" lengthAdjust="spacingAndGlyphs" stroke="#000" stroke-width="0.12">40</text>
<text x="257.20" y="436.82" font-family="Liberation Sans" font-weight="bold" font-size="8" text-anchor="end" fill="#000" textLength="8.10" lengthAdjust="spacingAndGlyphs" stroke="#000" stroke-width="0.12">60</text>
<text x="257.20" y="408.36" font-family="Liberation Sans" font-weight="bold" font-size="8" text-anchor="end" fill="#000" textLength="8.10" lengthAdjust="spacingAndGlyphs" stroke="#000" stroke-width="0.12">80</text>
<text x="257.20" y="379.90" font-family="Liberation Sans" font-weight="bold" font-size="8" text-anchor="end" fill="#000" textLength="12.15" lengthAdjust="spacingAndGlyphs" stroke="#000" stroke-width="0.12">100</text>
<text x="268.90" y="531.50" font-family="Liberation Sans" font-weight="bold" font-size="8" text-anchor="middle" fill="#000" textLength="8.10" lengthAdjust="spacingAndGlyphs" stroke="#000" stroke-width="0.12">12</text>
<text x="316.47" y="531.50" font-family="Liberation Sans" font-weight="bold" font-size="8" text-anchor="middle" fill="#000" textLength="8.10" lengthAdjust="spacingAndGlyphs" stroke="#000" stroke-width="0.12">24</text>
<text x="364.04" y="531.50" font-family="Liberation Sans" font-weight="bold" font-size="8" text-anchor="middle" fill="#000" textLength="8.10" lengthAdjust="spacingAndGlyphs" stroke="#000" stroke-width="0.12">36</text>
<text x="411.60" y="531.50" font-family="Liberation Sans" font-weight="bold" font-size="8" text-anchor="middle" fill="#000" textLength="8.10" lengthAdjust="spacingAndGlyphs" stroke="#000" stroke-width="0.12">48</text>
<path d="M268.90 379.02L316.47 381.30L411.60 382.87" fill="none" stroke="#111" stroke-width="1.3" stroke-linejoin="round"/>
<path d="M268.90 377.60V380.45M267.30 377.60H270.50M267.30 380.45H270.50M316.47 378.31V384.00M314.87 378.31H318.07M314.87 384.00H318.07M411.60 378.74V386.71M410.00 378.74H413.20M410.00 386.71H413.20" fill="none" stroke="#111" stroke-width="1"/>
<circle cx="268.90" cy="379.02" r="1.89" fill="#111"/>
<circle cx="316.47" cy="381.30" r="1.89" fill="#111"/>
<circle cx="411.60" cy="382.87" r="1.89" fill="#111"/>
<path d="M268.90 379.31L316.47 385.43L411.60 395.39" fill="none" stroke="#ff1414" stroke-width="1.3" stroke-linejoin="round"/>
<path d="M268.90 377.60V381.16M267.30 377.60H270.50M267.30 381.16H270.50M316.47 379.02V393.82M314.87 379.02H318.07M314.87 393.82H318.07M411.60 384.71V408.48M410.00 384.71H413.20M410.00 408.48H413.20" fill="none" stroke="#ff1414" stroke-width="1"/>
<circle cx="268.90" cy="379.31" r="1.89" fill="#ff1414"/>
<circle cx="316.47" cy="385.43" r="1.89" fill="#ff1414"/>
<circle cx="411.60" cy="395.39" r="1.89" fill="#ff1414"/>
<path d="M268.90 389.70L316.47 418.01L411.60 433.95" fill="none" stroke="#14ee14" stroke-width="1.3" stroke-linejoin="round"/>
<path d="M268.90 381.30V395.25M267.30 381.30H270.50M267.30 395.25H270.50M316.47 411.18V424.27M314.87 411.18H318.07M314.87 424.27H318.07M411.60 425.56V441.92M410.00 425.56H413.20M410.00 441.92H413.20" fill="none" stroke="#14ee14" stroke-width="1"/>
<path d="M268.90 387.36L271.24 391.32L266.56 391.32Z" fill="#14ee14"/>
<path d="M316.47 415.67L318.81 419.63L314.13 419.63Z" fill="#14ee14"/>
<path d="M411.60 431.61L413.94 435.57L409.26 435.57Z" fill="#14ee14"/>
<path d="M277.40 476.50H297.90" stroke="#111" stroke-width="1.3"/>
<circle cx="287.65" cy="476.50" r="1.94" fill="#111"/>
<text x="300.30" y="479.60" font-family="Liberation Sans" font-weight="bold" font-size="8.2" text-anchor="start" fill="#000" textLength="53.35" lengthAdjust="spacingAndGlyphs" stroke="#000" stroke-width="0.3">AuNF probes</text>
<path d="M277.40 487.90H297.90" stroke="#ff1414" stroke-width="1.3"/>
<circle cx="287.65" cy="487.90" r="1.94" fill="#ff1414"/>
<text x="300.30" y="491.00" font-family="Liberation Sans" font-weight="bold" font-size="8.2" text-anchor="start" fill="#000" textLength="27.86" lengthAdjust="spacingAndGlyphs" stroke="#000" stroke-width="0.3">erastin</text>
<path d="M277.40 499.00H297.90" stroke="#14ee14" stroke-width="1.3"/>
<path d="M287.65 496.60L290.05 500.67L285.25 500.67Z" fill="#14ee14"/>
<text x="300.30" y="502.10" font-family="Liberation Sans" font-weight="bold" font-size="8.2" text-anchor="start" fill="#000" textLength="90.90" lengthAdjust="spacingAndGlyphs" stroke="#000" stroke-width="0.3">AuNF probes + erastin</text>
<path d="M415.40 395.70H419.60V435.40H415.40" fill="none" stroke="#1a1a1a" stroke-width="1.25"/>
<path d="M424.90 414.30L427.50 414.30M424.90 414.30L425.70 416.77M424.90 414.30L422.80 415.83M424.90 414.30L422.80 412.77M424.90 414.30L425.70 411.83" stroke="#8c8c8c" stroke-width="1.25" stroke-linecap="round" fill="none"/>
<text x="326.50" y="542.40" font-family="Liberation Sans" font-weight="bold" font-size="10.2" text-anchor="start" fill="#000" textLength="39.80" lengthAdjust="spacingAndGlyphs" stroke="#000" stroke-width="0.3">Time (h)</text>
<text transform="translate(239.00 456.00) rotate(-90)" font-family="Liberation Sans" font-weight="bold" font-size="11.6" text-anchor="middle" stroke="#000" stroke-width="0.3" textLength="89.10" lengthAdjust="spacingAndGlyphs">Cell viability (%)</text>
<text x="231.80" y="382.40" font-family="Liberation Serif" font-weight="bold" font-size="19.5">F</text>
</svg></body></html>
